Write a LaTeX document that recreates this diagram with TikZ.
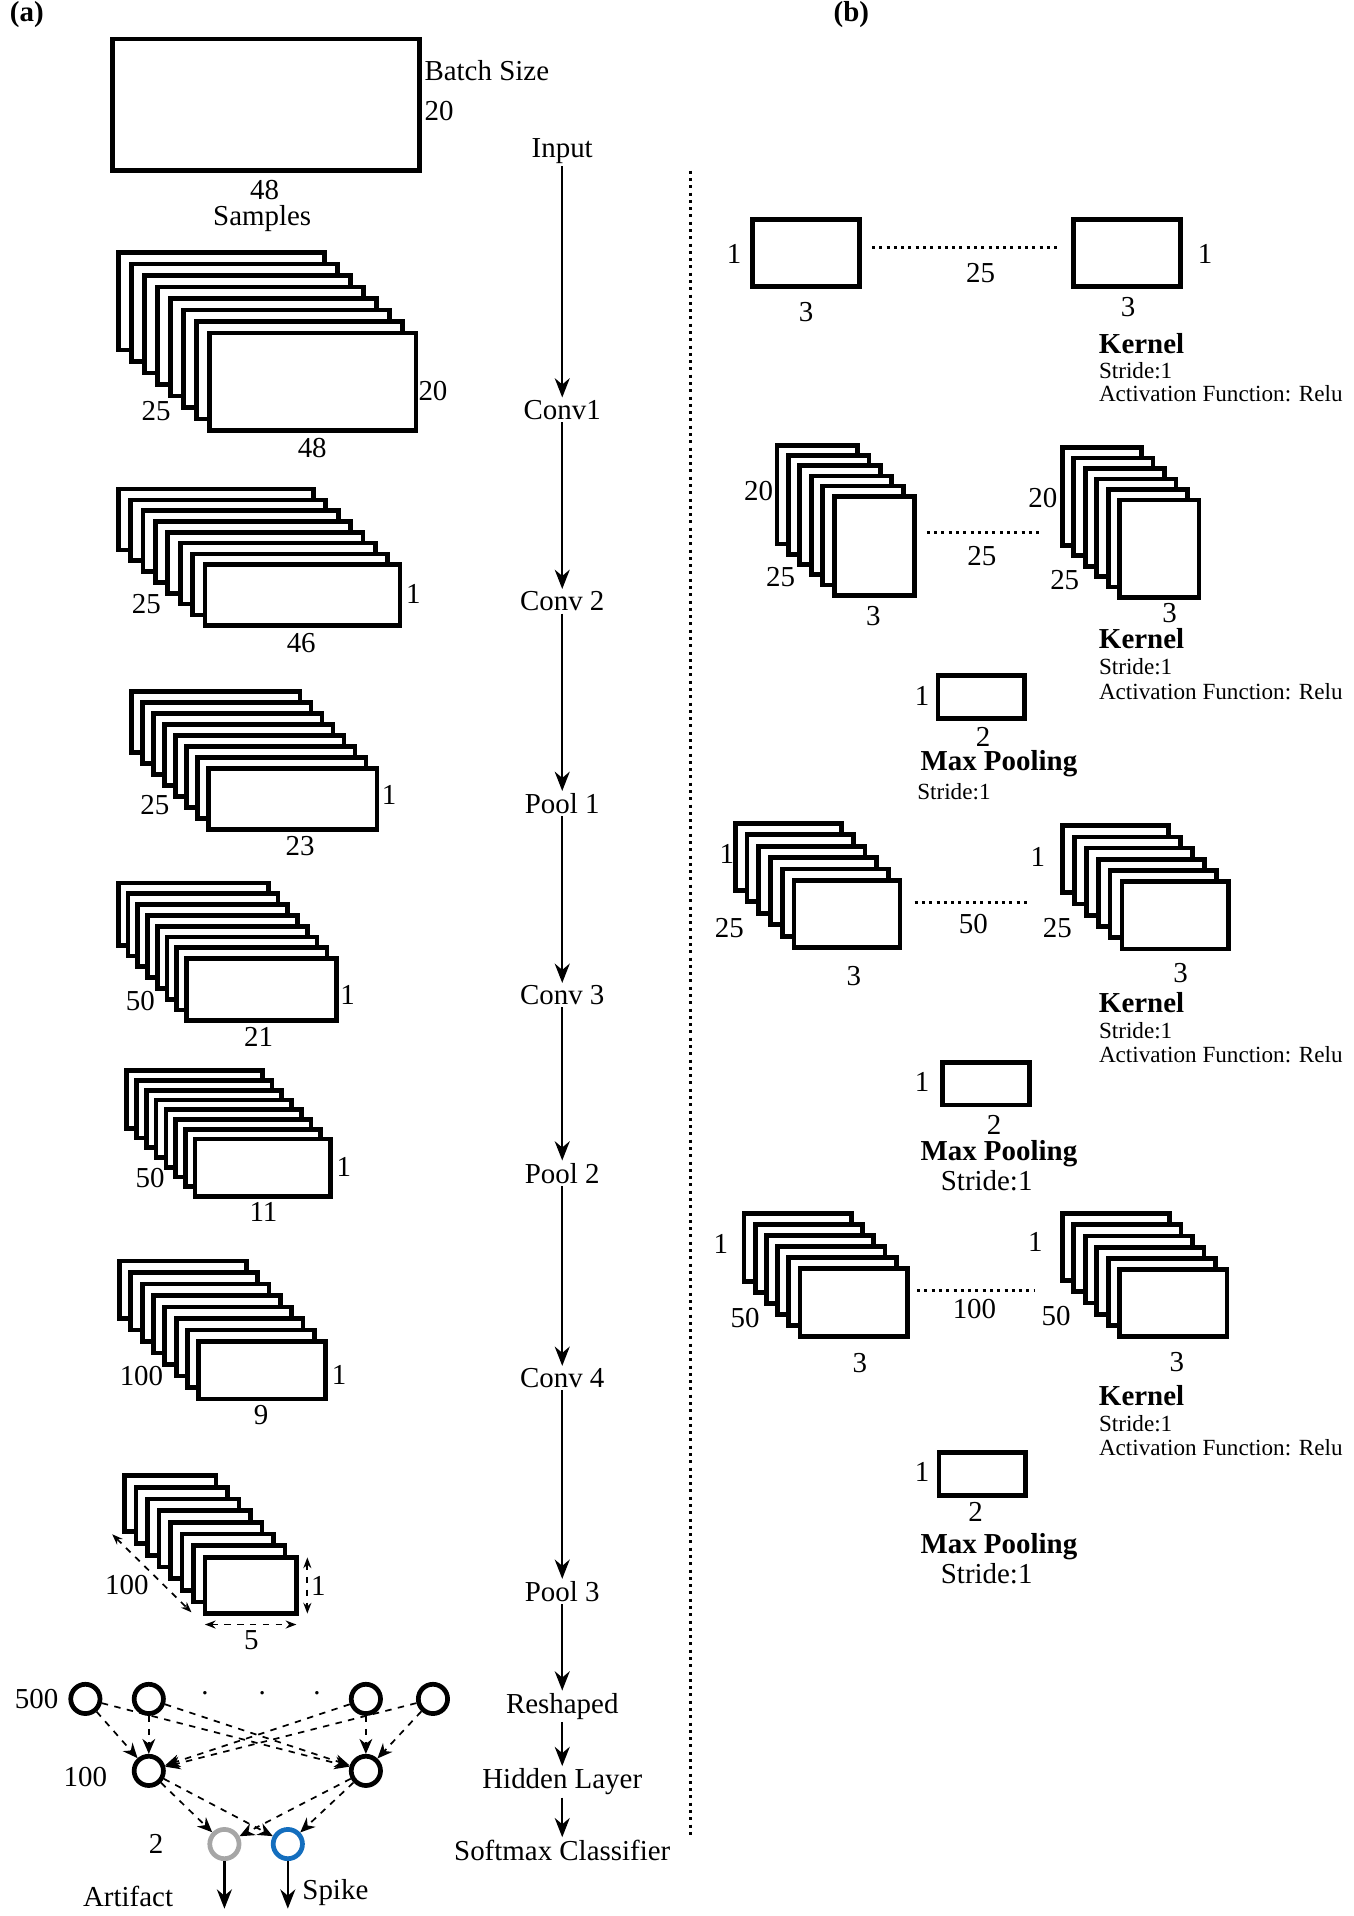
\documentclass[tikz,border=0pt]{standalone}
\usepackage{fontspec}
\setmainfont{Liberation Serif}
\usetikzlibrary{arrows.meta}
\definecolor{spikeblue}{RGB}{20,110,190}
\newcommand{\layerstack}[7]{%
  \foreach \k in {#7,...,0}{%
    \pgfmathsetmacro{\ox}{(#5-#1)*\k/#7}
    \pgfmathsetmacro{\oy}{(#6-#2)*\k/#7}
    \draw[box,fill=white] ({#1+\ox},{#2+\oy}) rectangle ({#3+\ox},{#4+\oy});
  }}
\begin{document}
\begin{tikzpicture}[x=0.02cm, y=-0.02cm,
  box/.style = {draw, line width=2.2pt},
  lbl/.style = {font=\fontsize{13.5}{15}\selectfont, inner sep=1pt},
  bold/.style = {font=\fontsize{13.5}{15}\selectfont\bfseries, inner sep=1pt},
  small/.style = {font=\fontsize{10.8}{12}\selectfont, inner sep=1pt, anchor=west},
  flow/.style = {-{Stealth[length=9pt,width=7pt]}, line width=1.1pt},
  neuron/.style = {draw, circle, line width=2.2pt, minimum size=0.48cm, inner sep=0pt, fill=white},
  link/.style = {dashed, -{Stealth[length=7pt,width=6pt]}, line width=0.8pt}]
\useasboundingbox (0,0) rectangle (1110,1571);

\node[bold] at (22,12) {(a)};
\node[bold] at (698,12) {(b)};

% input
\draw[box] (92,32) rectangle (344,140);
\node[lbl, anchor=west] at (346,58) {Batch Size};
\node[lbl] at (360,91) {20};
\node[lbl] at (217,156) {48};
\node[lbl] at (215,179) {Samples};

% feature maps
\layerstack{172}{273}{341}{353}{97}{207}{7}
\node[lbl] at (128,337) {25}; \node[lbl] at (355,321) {20}; \node[lbl] at (256,367) {48};
\layerstack{168}{463}{328}{513}{97}{401}{7}
\node[lbl] at (120,495) {25}; \node[lbl] at (339,487) {1}; \node[lbl] at (247,527) {46};
\layerstack{171}{630}{309}{680}{108}{567}{7}
\node[lbl] at (127,660) {25}; \node[lbl] at (319,652) {1}; \node[lbl] at (246,694) {23};
\layerstack{153}{786}{276}{837}{97}{724}{7}
\node[lbl] at (115,821) {50}; \node[lbl] at (285,816) {1}; \node[lbl] at (212,850) {21};
\layerstack{160}{934}{271}{981}{104}{878}{7}
\node[lbl] at (123,966) {50}; \node[lbl] at (282,957) {1}; \node[lbl] at (216,994) {11};
\layerstack{163}{1100}{267}{1147}{98}{1034}{7}
\node[lbl] at (116,1128) {100}; \node[lbl] at (278,1127) {1}; \node[lbl] at (214,1160) {9};
\layerstack{168}{1277}{243}{1323}{102}{1210}{7}
\node[lbl] at (104,1300) {100}; \node[lbl] at (261,1300) {1}; \node[lbl] at (206,1345) {5};
\coordinate (d1) at (92,1258); \coordinate (d2) at (157,1322);
\coordinate (v1) at (252,1277); \coordinate (v2) at (252,1323);
\coordinate (h1) at (168,1332); \coordinate (h2) at (243,1332);
\draw[dashed, {Stealth[length=5pt]}-{Stealth[length=5pt]}, line width=0.8pt] (d1) -- (d2);
\draw[dashed, {Stealth[length=5pt]}-{Stealth[length=5pt]}, line width=0.8pt] (v1) -- (v2);
\draw[dashed, {Stealth[length=5pt]}-{Stealth[length=5pt]}, line width=0.8pt] (h1) -- (h2);

% flow column
\node[lbl] (in) at (461,124) {Input};
\node[lbl] (c1) at (461,336) {Conv1};
\node[lbl] (c2) at (461,493) {Conv 2};
\node[lbl] (p1) at (461,659) {Pool 1};
\node[lbl] (c3) at (461,816) {Conv 3};
\node[lbl] (p2) at (461,962) {Pool 2};
\node[lbl] (c4) at (461,1130) {Conv 4};
\node[lbl] (p3) at (461,1305) {Pool 3};
\node[lbl] (rs) at (461,1399) {Reshaped};
\node[lbl] (hl) at (461,1461) {Hidden Layer};
\node[lbl] (sm) at (461,1517) {Softmax Classifier};
\draw[flow] (in) -- (c1);
\draw[flow] (c1) -- (c2);
\draw[flow] (c2) -- (p1);
\draw[flow] (p1) -- (c3);
\draw[flow] (c3) -- (p2);
\draw[flow] (p2) -- (c4);
\draw[flow] (c4) -- (p3);
\draw[flow] (p3) -- (rs);
\draw[flow] (rs) -- (hl);
\draw[flow] (hl) -- (sm);

\coordinate (sep1) at (566,140); \coordinate (sep2) at (566,1505);
\draw[dotted, line width=1.4pt] (sep1) -- (sep2);

% dense part
\node[neuron] (t1) at (70,1393) {};
\node[neuron] (t2) at (122,1393) {};
\node[neuron] (t3) at (300,1393) {};
\node[neuron] (t4) at (355,1393) {};
\node[lbl] at (168,1388) {.}; \node[lbl] at (215,1388) {.}; \node[lbl] at (260,1388) {.};
\node[lbl] at (30,1393) {500};
\node[neuron] (m1) at (122,1452) {};
\node[neuron] (m2) at (300,1452) {};
\node[lbl] at (70,1457) {100};
\foreach \t in {t1,t2,t3,t4}{
  \draw[link] (\t) -- (m1);
  \draw[link] (\t) -- (m2);
}
\node[neuron, draw=gray!70] (o1) at (184,1512) {};
\node[neuron, draw=spikeblue] (o2) at (236,1512) {};
\node[lbl] at (128,1512) {2};
\foreach \m in {m1,m2}{
  \draw[link] (\m) -- (o1);
  \draw[link] (\m) -- (o2);
}
\coordinate (a1) at (184,1565); \coordinate (a2) at (236,1565);
\draw[flow] (o1) -- (a1);
\draw[flow] (o2) -- (a2);
\node[lbl] at (105,1555) {Artifact};
\node[lbl] at (275,1552) {Spike};

% (b) kernels
\draw[box] (617,180) rectangle (705,235);
\draw[box] (880,180) rectangle (968,235);
\coordinate (k1a) at (715,203); \coordinate (k1b) at (868,203);
\draw[dotted, line width=1.4pt] (k1a) -- (k1b);
\node[lbl] at (602,208) {1}; \node[lbl] at (661,256) {3}; \node[lbl] at (804,224) {25};
\node[lbl] at (988,208) {1}; \node[lbl] at (925,252) {3};
\node[bold] at (936,282) {Kernel};
\node[small] at (899,304) {Stride:1};
\node[small] at (899,323) {Activation Function: Relu};

\layerstack{684}{407}{750}{488}{637}{365}{5}
\layerstack{918}{410}{983}{490}{871}{367}{5}
\coordinate (k2a) at (760,437); \coordinate (k2b) at (855,437);
\draw[dotted, line width=1.4pt] (k2a) -- (k2b);
\node[lbl] at (622,403) {20}; \node[lbl] at (640,473) {25}; \node[lbl] at (716,505) {3};
\node[lbl] at (805,456) {25}; \node[lbl] at (855,408) {20}; \node[lbl] at (873,476) {25};
\node[lbl] at (959,503) {3};
\node[bold] at (936,524) {Kernel};
\node[small] at (899,547) {Stride:1};
\node[small] at (899,567) {Activation Function: Relu};

\draw[box] (769,554) rectangle (840,589);
\node[lbl] at (756,571) {1}; \node[lbl] at (806,604) {2};
\node[bold] at (819,626) {Max Pooling};
\node[small] at (750,649) {Stride:1};

\layerstack{651}{722}{738}{777}{603}{675}{5}
\layerstack{920}{723}{1007}{778}{871}{677}{5}
\coordinate (k3a) at (750,740); \coordinate (k3b) at (845,740);
\draw[dotted, line width=1.4pt] (k3a) -- (k3b);
\node[lbl] at (596,700) {1}; \node[lbl] at (598,761) {25}; \node[lbl] at (700,800) {3};
\node[lbl] at (798,758) {50}; \node[lbl] at (851,703) {1}; \node[lbl] at (867,761) {25};
\node[lbl] at (968,798) {3};
\node[bold] at (936,822) {Kernel};
\node[small] at (899,845) {Stride:1};
\node[small] at (899,865) {Activation Function: Relu};

\draw[box] (773,871) rectangle (844,906);
\node[lbl] at (756,887) {1}; \node[lbl] at (815,922) {2};
\node[bold] at (819,946) {Max Pooling};
\node[lbl] at (809,968) {Stride:1};

\layerstack{656}{1040}{744}{1096}{610}{995}{5}
\layerstack{918}{1041}{1006}{1096}{871}{995}{5}
\coordinate (k4a) at (752,1058); \coordinate (k4b) at (848,1058);
\draw[dotted, line width=1.4pt] (k4a) -- (k4b);
\node[lbl] at (591,1020) {1}; \node[lbl] at (611,1081) {50}; \node[lbl] at (705,1118) {3};
\node[lbl] at (799,1073) {100}; \node[lbl] at (849,1018) {1}; \node[lbl] at (866,1079) {50};
\node[lbl] at (965,1117) {3};
\node[bold] at (936,1144) {Kernel};
\node[small] at (899,1167) {Stride:1};
\node[small] at (899,1187) {Activation Function: Relu};

\draw[box] (770,1191) rectangle (841,1226);
\node[lbl] at (756,1207) {1}; \node[lbl] at (800,1240) {2};
\node[bold] at (819,1268) {Max Pooling};
\node[lbl] at (809,1290) {Stride:1};
\end{tikzpicture}
\end{document}
